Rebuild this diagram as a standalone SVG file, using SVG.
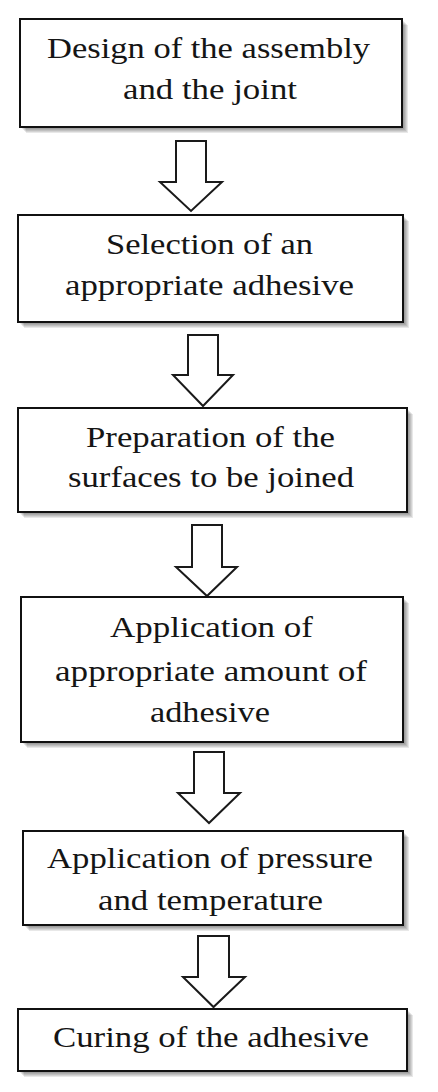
<svg xmlns="http://www.w3.org/2000/svg" width="438" height="1092" viewBox="0 0 438 1092">
<defs>
<style>
.box{fill:#fff;stroke:#111;stroke-width:2}
.s1{fill:#000;opacity:0.09}
.arr{fill:#fff;stroke:#1a1a1a;stroke-width:2;stroke-linejoin:miter}
.t{font-family:"Liberation Serif","Times New Roman",serif;font-size:30px;fill:#151515;text-anchor:middle}
</style>
</defs>
<rect width="438" height="1092" fill="#fff"/>
<g id="connectors">
<polygon class="arr" points="176,141 206,141 206,182 222,182 191,211 160,182 176,182"/>
<polygon class="arr" points="188,335 218,335 218,375 233,375 203,406 173,375 188,375"/>
<polygon class="arr" points="192,525 222,525 222,567 237,567 207,596 176,567 192,567"/>
<polygon class="arr" points="194,752 224,752 224,793 240,793 209,823 178,793 194,793"/>
<polygon class="arr" points="198,936 229,936 229,977 245,977 213.5,1007 183,977 198,977"/>
</g>
<g id="n1">
<g transform="translate(20,19)"><rect class="s1" x="2" y="2" width="382" height="108"/><rect class="s1" x="3" y="3" width="382" height="108"/><rect class="s1" x="4" y="4" width="382" height="108"/><rect class="s1" x="5" y="5" width="382" height="108"/><rect class="s1" x="6" y="6" width="382" height="108"/></g>
<rect class="box" x="20" y="19" width="382" height="108"/>
<text class="t" x="208.5" y="58" textLength="323" lengthAdjust="spacingAndGlyphs">Design of the assembly</text>
<text class="t" x="210" y="99" textLength="174" lengthAdjust="spacingAndGlyphs">and the joint</text>
</g>
<g id="n2">
<g transform="translate(18,215)"><rect class="s1" x="2" y="2" width="385" height="107"/><rect class="s1" x="3" y="3" width="385" height="107"/><rect class="s1" x="4" y="4" width="385" height="107"/><rect class="s1" x="5" y="5" width="385" height="107"/><rect class="s1" x="6" y="6" width="385" height="107"/></g>
<rect class="box" x="18" y="215" width="385" height="107"/>
<text class="t" x="209.5" y="254" textLength="207" lengthAdjust="spacingAndGlyphs">Selection of an</text>
<text class="t" x="209.5" y="295" textLength="289" lengthAdjust="spacingAndGlyphs">appropriate adhesive</text>
</g>
<g id="n3">
<g transform="translate(18,408)"><rect class="s1" x="2" y="2" width="389" height="104"/><rect class="s1" x="3" y="3" width="389" height="104"/><rect class="s1" x="4" y="4" width="389" height="104"/><rect class="s1" x="5" y="5" width="389" height="104"/><rect class="s1" x="6" y="6" width="389" height="104"/></g>
<rect class="box" x="18" y="408" width="389" height="104"/>
<text class="t" x="210.5" y="447" textLength="249" lengthAdjust="spacingAndGlyphs">Preparation of the</text>
<text class="t" x="211" y="487" textLength="286" lengthAdjust="spacingAndGlyphs">surfaces to be joined</text>
</g>
<g id="n4">
<g transform="translate(21,597)"><rect class="s1" x="2" y="2" width="382" height="145"/><rect class="s1" x="3" y="3" width="382" height="145"/><rect class="s1" x="4" y="4" width="382" height="145"/><rect class="s1" x="5" y="5" width="382" height="145"/><rect class="s1" x="6" y="6" width="382" height="145"/></g>
<rect class="box" x="21" y="597" width="382" height="145"/>
<text class="t" x="211.5" y="637" textLength="203" lengthAdjust="spacingAndGlyphs">Application of</text>
<text class="t" x="211" y="681" textLength="312" lengthAdjust="spacingAndGlyphs">appropriate amount of</text>
<text class="t" x="210" y="722" textLength="120" lengthAdjust="spacingAndGlyphs">adhesive</text>
</g>
<g id="n5">
<g transform="translate(23,831)"><rect class="s1" x="2" y="2" width="380" height="94"/><rect class="s1" x="3" y="3" width="380" height="94"/><rect class="s1" x="4" y="4" width="380" height="94"/><rect class="s1" x="5" y="5" width="380" height="94"/><rect class="s1" x="6" y="6" width="380" height="94"/></g>
<rect class="box" x="23" y="831" width="380" height="94"/>
<text class="t" x="210" y="868" textLength="326" lengthAdjust="spacingAndGlyphs">Application of pressure</text>
<text class="t" x="210.5" y="910" textLength="225" lengthAdjust="spacingAndGlyphs">and temperature</text>
</g>
<g id="n6">
<g transform="translate(18,1009)"><rect class="s1" x="2" y="2" width="389" height="62"/><rect class="s1" x="3" y="3" width="389" height="62"/><rect class="s1" x="4" y="4" width="389" height="62"/><rect class="s1" x="5" y="5" width="389" height="62"/><rect class="s1" x="6" y="6" width="389" height="62"/></g>
<rect class="box" x="18" y="1009" width="389" height="62"/>
<text class="t" x="211" y="1047" textLength="316" lengthAdjust="spacingAndGlyphs">Curing of the adhesive</text>
</g>
</svg>
